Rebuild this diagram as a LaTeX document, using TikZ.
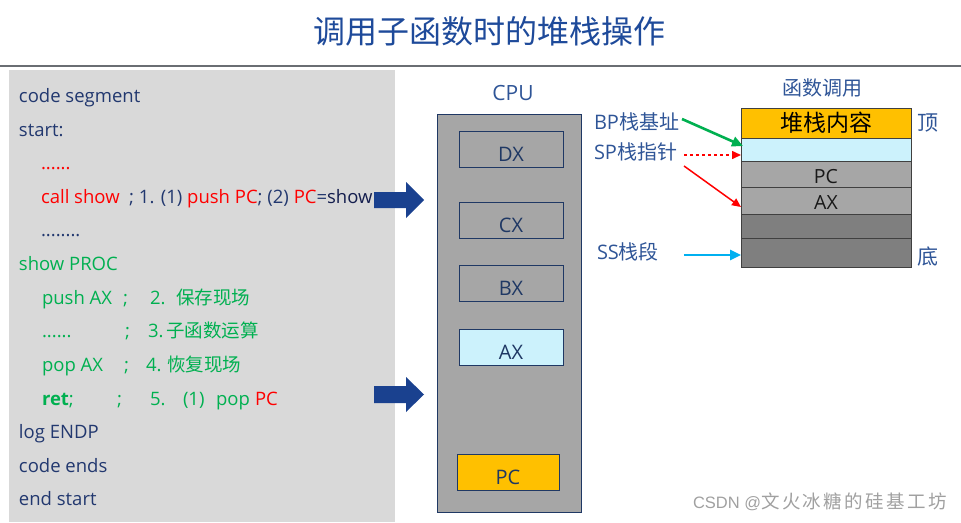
\documentclass[tikz,border=0pt]{standalone}
\usepackage{fontspec}
\setmainfont{Open Sans}
\newfontfamily\cjk{Noto Sans CJK SC}
\newfontfamily\wmfont{Liberation Sans}
\newfontfamily\wmcjk[LetterSpace=13]{Noto Sans CJK SC}
\usetikzlibrary{arrows.meta}
\definecolor{navy}{HTML}{22386F}
\definecolor{deepnavy}{HTML}{141E4E}
\definecolor{tblue}{HTML}{1E4A9A}
\definecolor{lblue}{HTML}{2F5597}
\definecolor{cgreen}{HTML}{00B050}
\definecolor{cred}{HTML}{FF0000}
\definecolor{panel}{HTML}{D9D9D9}
\definecolor{cpugray}{HTML}{A6A6A6}
\definecolor{dgray}{HTML}{7F7F7F}
\definecolor{gold}{HTML}{FFC000}
\definecolor{lcyan}{HTML}{CCF2FC}
\definecolor{arrowblue}{HTML}{1A418F}
\definecolor{sky}{HTML}{00B0F0}
\definecolor{wmgray}{HTML}{A0A0A0}
\definecolor{rule}{HTML}{6A6E73}
\definecolor{regline}{HTML}{1F3864}
\begin{document}
\begin{tikzpicture}[x=1pt,y=-1pt,
  every node/.style={inner sep=0pt, outer sep=0pt},
  code/.style={anchor=base west, font=\fontsize{18.5}{20}\selectfont},
  ccode/.style={anchor=base west, font=\cjk\fontsize{18.5}{20}\selectfont},
  reg/.style={draw=regline, line width=0.8pt, fill=cpugray, minimum width=104pt, minimum height=36pt},
  regtxt/.style={font=\fontsize{20}{22}\selectfont, text=regline},
  srow/.style={draw=black!75, line width=0.8pt, minimum width=170pt},
  stxt/.style={font=\fontsize{19.5}{22}\selectfont, text=black!90},
  lab/.style={anchor=west, font=\fontsize{20}{22}\selectfont, text=lblue},
  pointer/.style={line width=2.6pt, -{Triangle[length=11pt,width=10pt]}},
  thinpointer/.style={line width=1.5pt, -{Triangle[length=9pt,width=8pt]}},
  blockarrow/.style={fill=arrowblue}
]
\useasboundingbox (0,0) rectangle (961,522);
% title and rule
\node[font=\cjk\fontsize{32}{34}\selectfont, text=tblue] (title) at (489,31) {调用子函数时的堆栈操作};
\draw[rule, line width=1.2pt] (0,66) -- (961,66);
% code panel
\fill[panel] (9,70) rectangle (395,522);
\node[code, text=navy] (l1) at (19,102) {code segment};
\node[code, text=navy] (l2) at (19,136) {start:};
\node[code, text=cred] (l3) at (41,169) {......};
\node[code] (l4) at (41,203) {\color{cred}call show\ \ \color{navy}; 1. (1) \color{cred}push PC\color{navy}; (2) \color{cred}PC\color{navy}=\color{deepnavy}show};
\node[code, text=navy] (l5) at (41,236) {........};
\node[code, text=cgreen] (l6) at (19,270) {show PROC};
\node[code, text=cgreen] (l7a) at (42,304) {push AX};
\node[code, text=cgreen] (l7b) at (123,304) {;};
\node[code, text=cgreen] (l7c) at (150,304) {2.};
\node[ccode, text=cgreen] (l7d) at (176,304) {保存现场};
\node[code, text=cgreen] (l8a) at (42,337) {......};
\node[code, text=cgreen] (l8b) at (125,337) {;};
\node[code, text=cgreen] (l8c) at (148,337) {3.};
\node[ccode, text=cgreen] (l8d) at (166,337) {子函数运算};
\node[code, text=cgreen] (l9a) at (42,371) {pop AX};
\node[code, text=cgreen] (l9b) at (124,371) {;};
\node[code, text=cgreen] (l9c) at (146,371) {4.};
\node[ccode, text=cgreen] (l9d) at (167,371) {恢复现场};
\node[code, text=cgreen] (l10a) at (42,405) {\textbf{ret};};
\node[code, text=cgreen] (l10b) at (117,405) {;};
\node[code, text=cgreen] (l10c) at (150,405) {5.};
\node[code, text=cgreen] (l10d) at (183,405) {(1)};
\node[code, text=cgreen] (l10e) at (216,405) {pop};
\node[code, text=cred] (l10f) at (255,405) {PC};
\node[code, text=navy] (l11) at (19,438) {log ENDP};
\node[code, text=navy] (l12) at (19,472) {code ends};
\node[code, text=navy] (l13) at (19,505) {end start};
% block arrows
\fill[blockarrow] (374,192) -- (406,192) -- (406,182) -- (424,200) -- (406,218) -- (406,208) -- (374,208) -- cycle;
\fill[blockarrow] (374,386) -- (406,386) -- (406,377) -- (424,394.5) -- (406,412) -- (406,403) -- (374,403) -- cycle;
% CPU
\node[font=\fontsize{21}{23}\selectfont, text=lblue] (cpulab) at (513,93) {CPU};
\node[draw=regline, line width=0.8pt, fill=cpugray, minimum width=144pt, minimum height=398pt, anchor=north west] (cpu) at (437,114) {};
\node[reg] (dx) at (511,149) {};
\node[regtxt] (dxt) at ([yshift=-5pt]dx.center) {DX};
\node[reg] (cx) at (511,220) {};
\node[regtxt] (cxt) at ([yshift=-5pt]cx.center) {CX};
\node[reg] (bx) at (511,283) {};
\node[regtxt] (bxt) at ([yshift=-5pt]bx.center) {BX};
\node[reg, fill=lcyan] (ax) at (511,347) {};
\node[regtxt] (axt) at ([yshift=-5pt]ax.center) {AX};
\node[reg, fill=gold, minimum width=102pt] (pc) at (508,472) {};
\node[regtxt] (pct) at ([yshift=-5pt]pc.center) {PC};
% stack
\node[font=\cjk\fontsize{20}{22}\selectfont, text=lblue] (fnlab) at (822,88) {函数调用};
\node[srow, fill=gold, minimum height=30pt] (s1) at (826,123) {};
\node[font=\cjk\fontsize{23}{25}\selectfont, text=black] (s1t) at (s1.center) {堆栈内容};
\node[srow, fill=lcyan, minimum height=23pt] (s2) at (826,149.5) {};
\node[srow, fill=cpugray, minimum height=26pt] (s3) at (826,174) {};
\node[stxt] (s3t) at ([yshift=-3pt]s3.center) {PC};
\node[srow, fill=cpugray, minimum height=27pt] (s4) at (826,200.5) {};
\node[stxt] (s4t) at ([yshift=-2.5pt]s4.center) {AX};
\node[srow, fill=dgray, minimum height=24pt] (s5) at (826,226) {};
\node[srow, fill=dgray, minimum height=29pt] (s6) at (826,252.5) {};
\node[font=\cjk\fontsize{21}{22}\selectfont, text=lblue] (top) at (928,123) {顶};
\node[font=\cjk\fontsize{21}{22}\selectfont, text=lblue] (bot) at (928,257) {底};
% pointer labels
\node[lab] (bp) at (594,122) {BP{\cjk 栈基址}};
\node[lab] (sp) at (594,152) {SP{\cjk 栈指针}};
\node[lab] (ss) at (597,252) {SS{\cjk 栈段}};
\draw[pointer, cgreen] ([xshift=3pt,yshift=3pt]bp.east) -- ([xshift=2pt,yshift=3.5pt]s2.west);
\draw[thinpointer, cred, dashed] ([xshift=7pt,yshift=-3pt]sp.east) -- ([yshift=-5.5pt]s2.west);
\draw[thinpointer, cred] ([xshift=7pt,yshift=-14pt]sp.east) -- ([yshift=-6.5pt]s4.west);
\draw[pointer, sky] ([xshift=25pt,yshift=-3pt]ss.east) -- ([yshift=-2.5pt]s6.west);
% watermark
\node[anchor=west, font=\fontsize{16.5}{18}\selectfont, text=wmgray] (wm) at (693,502) {\wmfont CSDN @{\wmcjk\fontsize{18.5}{19}\selectfont 文火冰糖的硅基工坊}};
\end{tikzpicture}
\end{document}
